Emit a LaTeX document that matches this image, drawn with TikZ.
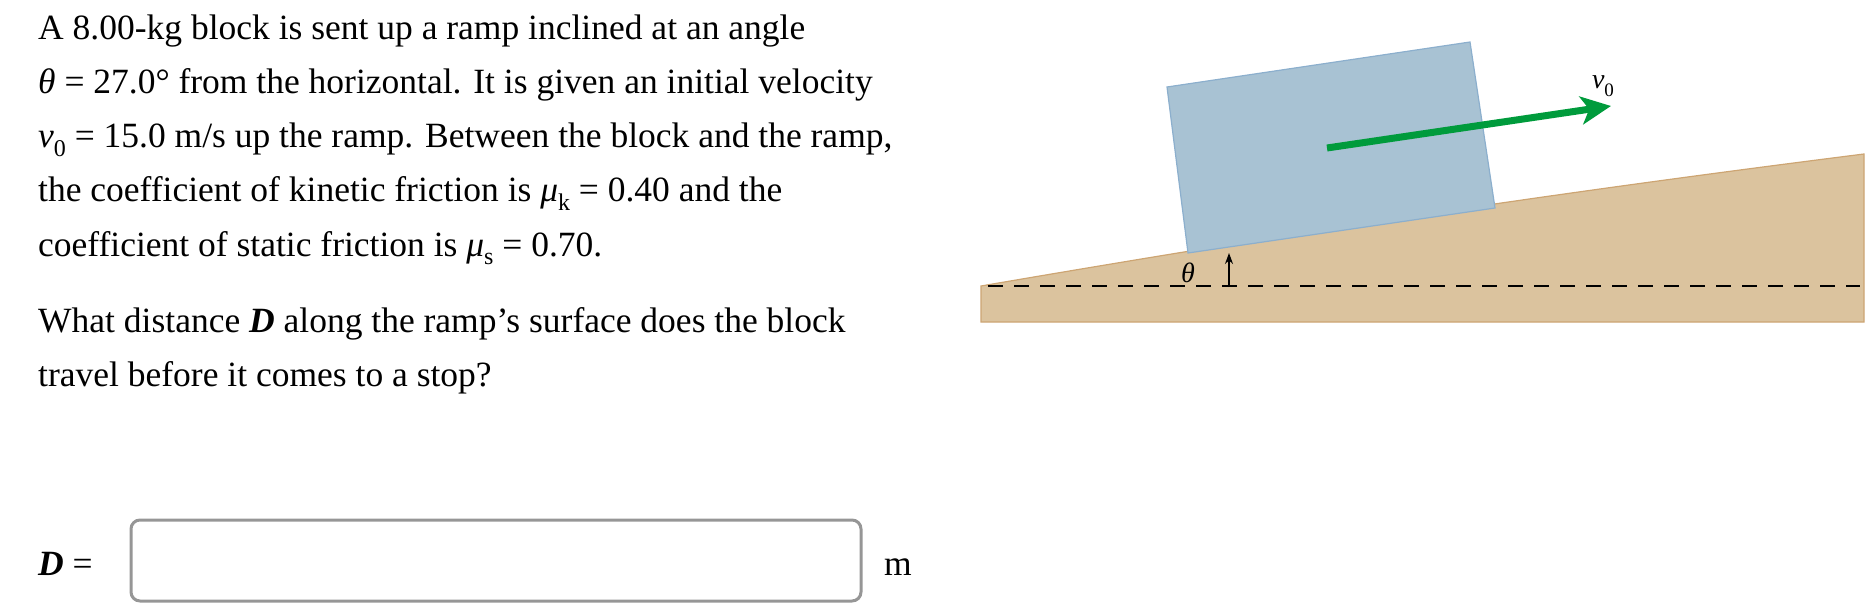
\documentclass[tikz,border=0pt]{standalone}
\usepackage{fontspec}
\usetikzlibrary{arrows.meta}
\setmainfont{Liberation Serif}
\begin{document}
\begin{tikzpicture}[x=1pt,y=-1pt,
  txt/.style={anchor=base west,inner sep=0,font=\fontsize{35.5}{40}\selectfont},
  ramp/.style={fill={rgb,255:red,219;green,195;blue,158},draw={rgb,255:red,205;green,165;blue,115},line width=1.2pt},
  blockst/.style={fill={rgb,255:red,168;green,194;blue,211},draw={rgb,255:red,140;green,175;blue,205},line width=1.2pt},
  vel/.style={draw={rgb,255:red,0;green,155;blue,60},line width=7pt,-{Stealth[length=30pt,width=28pt,inset=8pt]}}]
\useasboundingbox (0,0) rectangle (1876,604);
\newcommand{\sub}[1]{\raisebox{-0.25em}{\fontsize{24}{26}\selectfont #1}}
\newcommand{\eq}{\hspace{0.25em}=\hspace{0.25em}}
\node[txt] (l1) at (38,40) {A 8.00-kg block is sent up a ramp inclined at an angle};
\node[txt] (l2) at (38,94) {\textit{θ}\eq 27.0° from the horizontal. It is given an initial velocity};
\node[txt] (l3) at (38,148) {\textit{v}\sub{0}\eq 15.0 m/s up the ramp. Between the block and the ramp,};
\node[txt] (l4) at (38,202) {the coefficient of kinetic friction is \textit{μ}\sub{k}\eq 0.40 and the};
\node[txt] (l5) at (38,256) {coefficient of static friction is \textit{μ}\sub{s}\eq 0.70.};
\node[txt] (l6) at (38,332) {What distance \textbf{\textit{D}} along the ramp's surface does the block};
\node[txt] (l7) at (38,386) {travel before it comes to a stop?};
\node[txt] (dl) at (38,575) {\textbf{\textit{D}} =};
\draw[rounded corners=9pt,line width=3pt,draw={rgb,255:red,150;green,150;blue,150}] (131,520) rectangle (861,601);
\node[txt] (m) at (884,575) {m};
% ramp
\draw[ramp] (981,286) .. controls (1250,240) and (1500,200) .. (1864,154) -- (1864,322) -- (981,322) -- cycle;
\draw[line width=1.8pt,dash pattern=on 15pt off 11pt] (988,286) -- (1860,286);
% block
\draw[blockst] (1188,253) -- (1167,87) -- (1470,42) -- (1495,208) -- cycle;
\coordinate (a0) at (1327,148);
\coordinate (a1) at (1611,106);
\draw[vel] (a0) -- (a1);
\node[font=\fontsize{28}{30}\selectfont\itshape] (v0) at (1603,86) {v\raisebox{-0.3em}{\fontsize{19}{20}\selectfont\upshape 0}};
\node[font=\fontsize{28}{30}\selectfont\itshape] (th) at (1188,273) {θ};
\coordinate (t0) at (1229,287);
\coordinate (t1) at (1229,253);
\draw[line width=1.4pt,-{Stealth[length=11pt,width=8pt]}] (t0) -- (t1);
\end{tikzpicture}
\end{document}
